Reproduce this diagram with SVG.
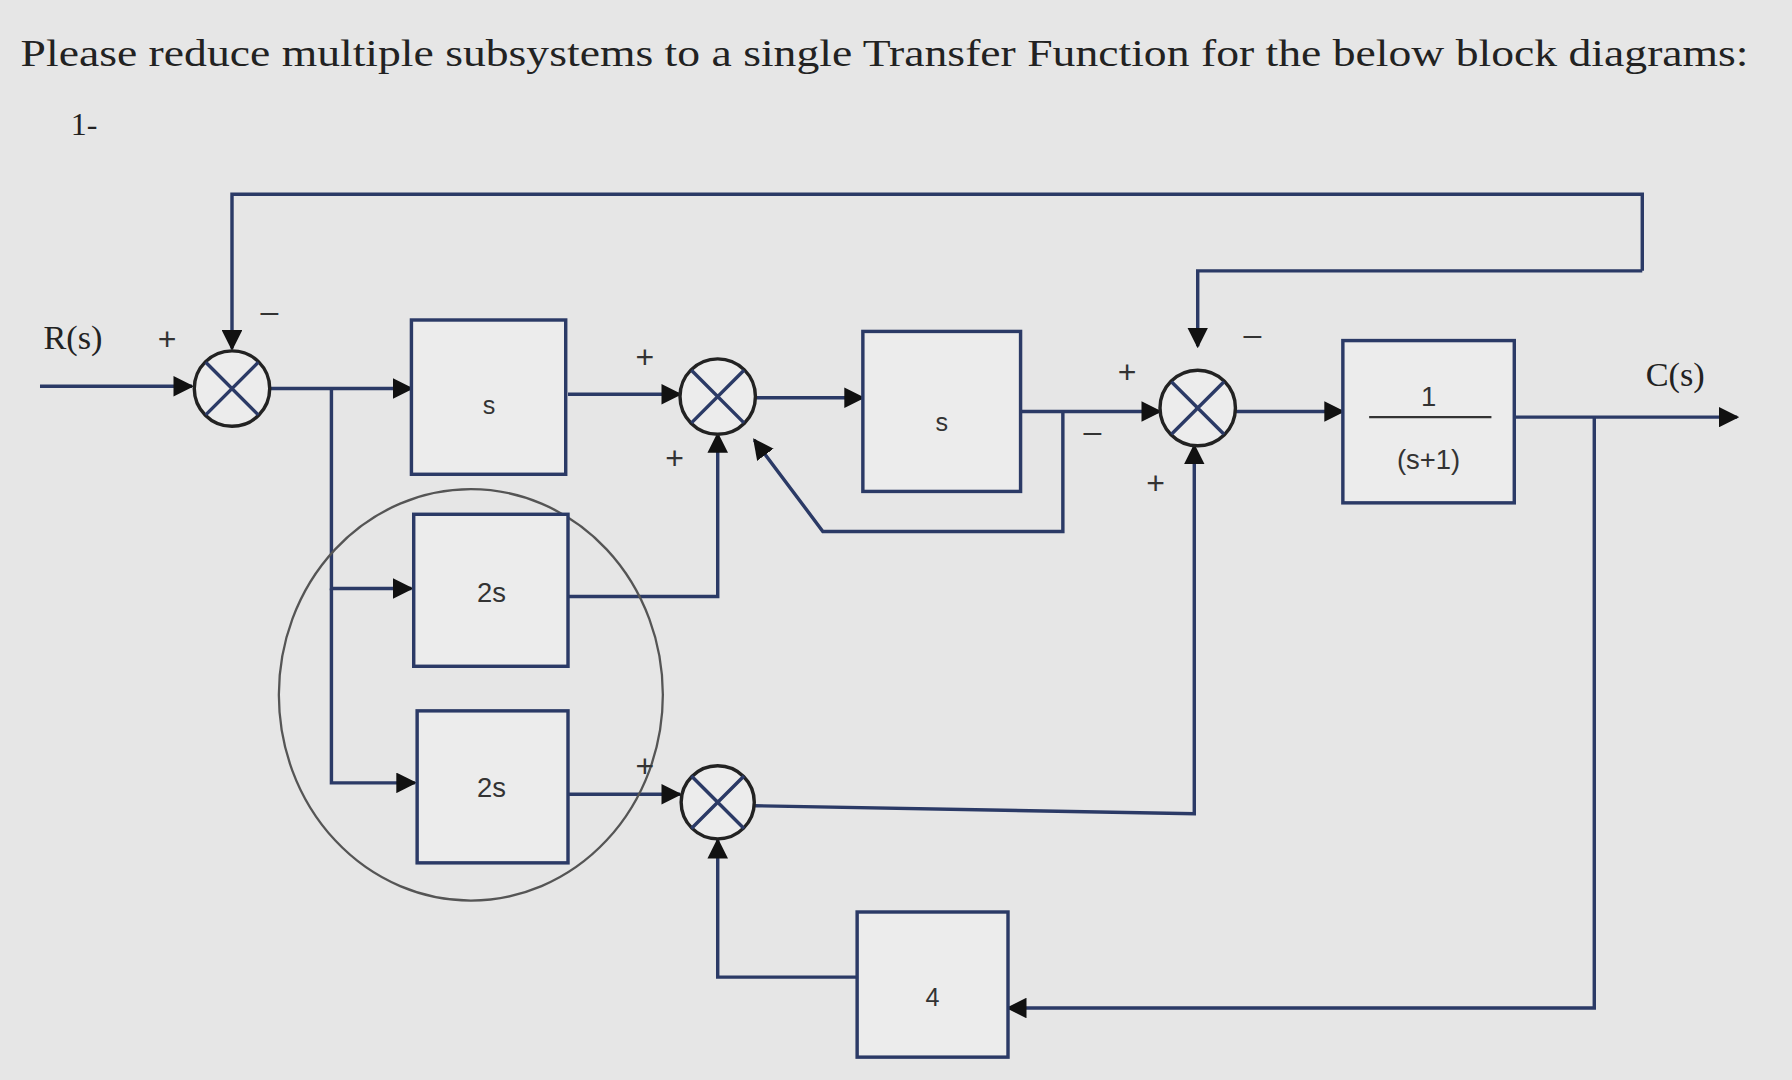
<svg xmlns="http://www.w3.org/2000/svg" width="1792" height="1080" viewBox="0 0 1792 1080">
<defs>
<marker id="ar" viewBox="0 0 10 10" refX="9" refY="5" markerWidth="6" markerHeight="6" orient="auto"><path d="M0,0L10,5L0,10z" fill="#111"/></marker>
<style>
.w{fill:none;stroke:#2b3a66;stroke-width:3}
.b{fill:#ececec;stroke:#2b3a66;stroke-width:3}
.j{fill:#ececec;stroke:#222;stroke-width:3}
.t{font-family:"Liberation Serif",serif;fill:#222}
.s{font-family:"Liberation Sans",sans-serif;fill:#333}
</style>
</defs>
<rect width="1792" height="1080" fill="#e6e6e6"/>
<g transform="scale(1.142857)">
<text class="t" x="18" y="58" font-size="34" textLength="1512" lengthAdjust="spacingAndGlyphs">Please reduce multiple subsystems to a single Transfer Function for the below block diagrams:</text>
<text class="t" x="62" y="118" font-size="28">1-</text>
<g id="connectors">
<path class="w" d="M35,338H168" marker-end="url(#ar)"/>
<path class="w" d="M1437,237V170H203V305" marker-end="url(#ar)"/>
<path class="w" d="M1437,237H1048V303" marker-end="url(#ar)"/>
<path class="w" d="M236,340H360" marker-end="url(#ar)"/>
<path class="w" d="M290,340V515H360" marker-end="url(#ar)"/>
<path class="w" d="M290,515V685H363" marker-end="url(#ar)"/>
<path class="w" d="M497,345H595" marker-end="url(#ar)"/>
<path class="w" d="M497,522H628V380" marker-end="url(#ar)"/>
<path class="w" d="M661,348H755" marker-end="url(#ar)"/>
<path class="w" d="M893,360H1015" marker-end="url(#ar)"/>
<path class="w" d="M930,360V465H720L660,385" marker-end="url(#ar)"/>
<path class="w" d="M1081,360H1175" marker-end="url(#ar)"/>
<path class="w" d="M1325,365H1520" marker-end="url(#ar)"/>
<path class="w" d="M497,695H595" marker-end="url(#ar)"/>
<path class="w" d="M750,855H628V735" marker-end="url(#ar)"/>
<path class="w" d="M1395,365V882H882" marker-end="url(#ar)"/>
<path class="w" d="M660,705L1045,712V390" marker-end="url(#ar)"/>
<ellipse cx="412" cy="608" rx="168" ry="180" fill="none" stroke="#555" stroke-width="2"/>
</g>
<g id="sum1"><circle class="j" cx="203" cy="340" r="33"/><path class="w" d="M180,317L226,363M226,317L180,363"/></g>
<g id="sum2"><circle class="j" cx="628" cy="347" r="33"/><path class="w" d="M605,324L651,370M651,324L605,370"/></g>
<g id="sum3"><circle class="j" cx="1048" cy="357" r="33"/><path class="w" d="M1025,334L1071,380M1071,334L1025,380"/></g>
<g id="sum4"><circle class="j" cx="628" cy="702" r="32"/><path class="w" d="M605,679L651,725M651,679L605,725"/></g>
<g id="bs1"><rect class="b" x="360" y="280" width="135" height="135"/><text class="s" x="428" y="362" font-size="22" text-anchor="middle">s</text></g>
<g id="b2s1"><rect class="b" x="362" y="450" width="135" height="133"/><text class="s" x="430" y="527" font-size="24" text-anchor="middle">2s</text></g>
<g id="b2s2"><rect class="b" x="365" y="622" width="132" height="133"/><text class="s" x="430" y="697" font-size="24" text-anchor="middle">2s</text></g>
<g id="bs2"><rect class="b" x="755" y="290" width="138" height="140"/><text class="s" x="824" y="377" font-size="22" text-anchor="middle">s</text></g>
<g id="bg"><rect class="b" x="1175" y="298" width="150" height="142"/><text class="s" x="1250" y="355" font-size="24" text-anchor="middle">1</text><path d="M1198,365H1305" stroke="#333" stroke-width="2"/><text class="s" x="1250" y="410" font-size="24" text-anchor="middle">(s+1)</text></g>
<g id="b4"><rect class="b" x="750" y="798" width="132" height="127"/><text class="s" x="816" y="880" font-size="22" text-anchor="middle">4</text></g>
<g id="labels" class="s" font-size="28">
<text x="38" y="305" class="t" font-size="30">R(s)</text>
<text x="138" y="306">+</text><text x="228" y="282">–</text>
<text x="556" y="322">+</text><text x="582" y="410">+</text>
<text x="978" y="335">+</text><text x="948" y="387">–</text><text x="1003" y="432">+</text><text x="1088" y="302">–</text>
<text x="556" y="680">+</text>
<text x="1440" y="338" class="t" font-size="30">C(s)</text>
</g>
</g>
</svg>
